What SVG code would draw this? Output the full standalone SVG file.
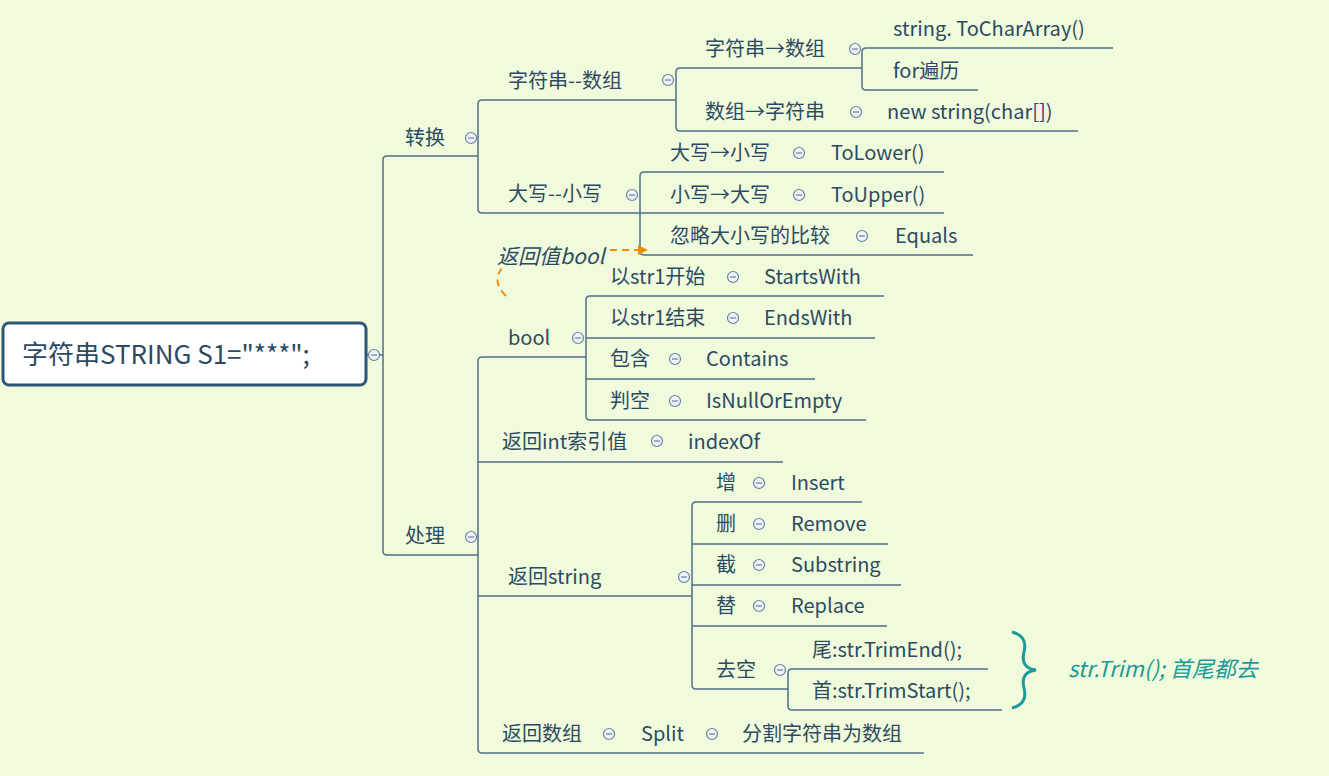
<svg xmlns="http://www.w3.org/2000/svg" width="1329" height="776" viewBox="0 0 1329 776">
<style>
text{font-family:"Noto Sans CJK SC","Noto Sans",sans-serif;font-size:20px;fill:#2c4a63}
.l{fill:none;stroke:#4f6f8a;stroke-width:1.5}
.c{fill:#eef3f8;stroke:#6a82a0;stroke-width:1.2}
.m{stroke:#6a82a0;stroke-width:1.2}
.it{font-style:italic}
</style>
<defs>
<g id="cm"><circle class="c" r="5.5"/><line class="m" x1="-3" y1="0" x2="3" y2="0"/></g>
<marker id="ar" markerWidth="10" markerHeight="10" refX="8" refY="5" orient="auto" markerUnits="userSpaceOnUse"><path d="M0,0L10,5L0,10z" fill="#f08c00"/></marker>
</defs>
<rect width="1329" height="776" fill="#f0fbdc"/>
<g id="connectors" class="l">
<path d="M366,355H383"/>
<path d="M478,156H387Q383,156 383,160V551Q383,555 387,555H478"/>
<path d="M676,100H482Q478,100 478,104V209Q478,213 482,213H640"/>
<path d="M862,68H680Q676,68 676,72V127Q676,131 680,131H1078"/>
<path d="M1113,48H866Q862,48 862,52V86Q862,90 866,90H978"/>
<path d="M944,172H644Q640,172 640,176V251Q640,255 644,255H973"/><path d="M640,213H944"/>
<path d="M586,357H482Q478,357 478,361V749Q478,753 482,753H924"/><path d="M478,462H783"/><path d="M478,596H692"/>
<path d="M884,296H590Q586,296 586,300V416Q586,420 590,420H866"/><path d="M586,338H875"/><path d="M586,379H815"/>
<path d="M862,502H696Q692,502 692,506V685Q692,689 696,689H788"/><path d="M692,544H888"/><path d="M692,585H901"/><path d="M692,626H887"/>
<path d="M988,669H792Q788,669 788,673V706Q788,710 792,710H1002"/>
<path d="M506,296Q490,280 504,266" stroke="#f08c00" stroke-dasharray="7,5" stroke-width="2"/>
<path d="M610,250H646" stroke="#f08c00" stroke-dasharray="7,5" stroke-width="2" marker-end="url(#ar)"/>
<path d="M1012,632Q1028,636 1024,652Q1020,668 1036,670Q1020,672 1024,688Q1028,704 1012,708" stroke="#1a9a9a" stroke-width="3"/>
</g>
<g id="root"><rect x="3" y="323" width="363" height="62" rx="6" fill="#fff" stroke="#2e5478" stroke-width="3"/><text x="22" y="364" style="font-size:26px">字符串STRING S1="***";</text><use href="#cm" x="374" y="355"/></g>
<g id="n1"><text x="405" y="145">转换</text><use href="#cm" x="471" y="138"/></g>
<g id="n2"><text x="508" y="88">字符串--数组</text><use href="#cm" x="668" y="80"/></g>
<g id="n3"><text x="705" y="56">字符串→数组</text><use href="#cm" x="855" y="49"/></g>
<g id="n4"><text x="893" y="36">string. ToCharArray()</text></g>
<g id="n5"><text x="893" y="78">for遍历</text></g>
<g id="n6"><text x="705" y="119">数组→字符串</text><use href="#cm" x="856" y="112"/><text x="887" y="119">new string(char[])</text></g>
<g id="n7"><text x="508" y="201">大写--小写</text><use href="#cm" x="632" y="195"/></g>
<g id="n8"><text x="670" y="160">大写→小写</text><use href="#cm" x="799" y="153"/><text x="831" y="160">ToLower()</text></g>
<g id="n9"><text x="670" y="202">小写→大写</text><use href="#cm" x="799" y="195"/><text x="831" y="202">ToUpper()</text></g>
<g id="n10"><text x="670" y="243">忽略大小写的比较</text><use href="#cm" x="862" y="236"/><text x="895" y="243">Equals</text></g>
<g id="n11"><text x="405" y="543">处理</text><use href="#cm" x="471" y="537"/></g>
<g id="n12"><text x="508" y="345">bool</text><use href="#cm" x="578" y="338"/><text x="497" y="264" class="it" style="font-size:21px">返回值bool</text></g>
<g id="n13"><text x="610" y="284">以str1开始</text><use href="#cm" x="733" y="277"/><text x="764" y="284">StartsWith</text></g>
<g id="n14"><text x="610" y="325">以str1结束</text><use href="#cm" x="733" y="318"/><text x="764" y="325">EndsWith</text></g>
<g id="n15"><text x="610" y="366">包含</text><use href="#cm" x="675" y="359"/><text x="706" y="366">Contains</text></g>
<g id="n16"><text x="610" y="408">判空</text><use href="#cm" x="675" y="401"/><text x="706" y="408">IsNullOrEmpty</text></g>
<g id="n17"><text x="502" y="449">返回int索引值</text><use href="#cm" x="657" y="441"/><text x="688" y="449">indexOf</text></g>
<g id="n18"><text x="508" y="584">返回string</text><use href="#cm" x="684" y="577"/></g>
<g id="n19"><text x="716" y="490">增</text><use href="#cm" x="759" y="483"/><text x="791" y="490">Insert</text></g>
<g id="n20"><text x="716" y="531">删</text><use href="#cm" x="759" y="524"/><text x="791" y="531">Remove</text></g>
<g id="n21"><text x="716" y="572">截</text><use href="#cm" x="759" y="565"/><text x="791" y="572">Substring</text></g>
<g id="n22"><text x="716" y="613">替</text><use href="#cm" x="759" y="606"/><text x="791" y="613">Replace</text></g>
<g id="n23"><text x="716" y="677">去空</text><use href="#cm" x="780" y="670"/></g>
<g id="n24"><text x="812" y="657">尾:str.TrimEnd();</text></g>
<g id="n25"><text x="812" y="698">首:str.TrimStart();</text></g>
<g id="n26"><text x="1068" y="677" class="it" style="font-size:22px;fill:#1a9a9a">str.Trim(); 首尾都去</text></g>
<g id="n27"><text x="502" y="741">返回数组</text><use href="#cm" x="609" y="734"/><text x="641" y="741">Split</text><use href="#cm" x="712" y="734"/><text x="742" y="741">分割字符串为数组</text></g>
</svg>
